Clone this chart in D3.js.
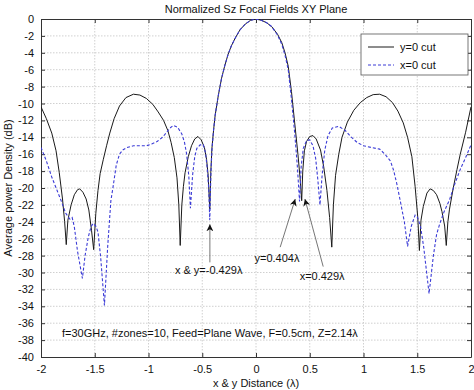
<!DOCTYPE html>
<html>
<head>
<meta charset="utf-8">
<script src="https://cdn.jsdelivr.net/npm/d3@7/dist/d3.min.js"></script>
<style>
  html, body { margin: 0; padding: 0; background: #fff; }
  svg { display: block; font-family: "Liberation Sans", Arial, sans-serif; }
</style>
</head>
<body>
<svg id="chart" width="474" height="390"></svg>
<script>
// ---- data ----
const xTicks = [-2, -1.5, -1, -0.5, 0, 0.5, 1, 1.5, 2];
const xTickLabels = ["-2", "-1.5", "-1", "-0.5", "0", "0.5", "1", "1.5", "2"];
const yTicks = [0, -2, -4, -6, -8, -10, -12, -14, -16, -18, -20, -22, -24, -26, -28, -30, -32, -34, -36, -38, -40];

const seriesNames = ["y=0 cut", "x=0 cut"];

// y=0 cut (solid black)
const yCutX = [-2.00,-1.95,-1.90,-1.86,-1.83,-1.80,-1.78,-1.765,-1.75,-1.72,-1.69,-1.66,-1.64,-1.61,-1.58,-1.555,-1.53,-1.51,-1.49,-1.47,-1.45,-1.42,-1.39,-1.36,-1.32,-1.27,-1.21,-1.14,-1.08,-1.02,-0.96,-0.91,-0.86,-0.82,-0.79,-0.76,-0.735,-0.718,-0.705,-0.69,-0.675,-0.66,-0.63,-0.60,-0.57,-0.54,-0.51,-0.48,-0.46,-0.445,-0.43,-0.42,-0.41,-0.395,-0.38,-0.35,-0.32,-0.29,-0.26,-0.23,-0.195,-0.15,-0.10,-0.05,0,
  0.05,0.10,0.146,0.20,0.24,0.27,0.30,0.33,0.36,0.39,0.41,0.425,0.435,0.45,0.47,0.50,0.53,0.56,0.60,0.63,0.66,0.685,0.705,0.72,0.74,0.77,0.80,0.85,0.91,0.97,1.03,1.09,1.15,1.21,1.27,1.32,1.37,1.41,1.45,1.48,1.505,1.52,1.535,1.556,1.59,1.62,1.65,1.68,1.71,1.73,1.755,1.77,1.785,1.80,1.835,1.87,1.90,1.95,2.00];
const yCutDb = [-10.4,-11.8,-13.5,-15.6,-18.2,-21.3,-24.0,-26.7,-23.8,-22.0,-20.8,-20.2,-20.1,-20.5,-21.3,-22.6,-25.0,-27.3,-23.0,-20.3,-18.3,-16.6,-15.0,-13.5,-11.8,-10.3,-9.3,-8.9,-9.0,-9.4,-10.1,-11.0,-12.0,-13.2,-14.6,-16.4,-18.8,-22.0,-26.8,-22.0,-19.8,-18.2,-16.3,-15.0,-14.2,-13.9,-14.3,-15.2,-16.6,-18.5,-22.5,-18.0,-15.3,-13.2,-11.4,-9.0,-7.0,-5.5,-4.2,-3.2,-2.3,-1.3,-0.6,-0.15,0,
  -0.15,-0.45,-0.9,-1.8,-2.8,-4.0,-5.6,-8.6,-12.3,-16.0,-18.8,-21.5,-18.0,-15.6,-14.5,-13.9,-13.8,-14.2,-15.5,-17.5,-20.3,-23.5,-27.0,-22.0,-18.5,-16.0,-14.0,-12.2,-10.8,-9.9,-9.3,-8.95,-8.9,-9.2,-9.9,-10.9,-12.3,-14.0,-16.3,-19.8,-23.5,-27.4,-23.8,-22.2,-20.6,-20.1,-20.3,-20.8,-21.8,-22.8,-24.5,-26.8,-24.0,-22.5,-20.0,-17.8,-16.0,-13.4,-10.4];

// x=0 cut (dashed blue)
const xCutX = [-2.00,-1.95,-1.90,-1.85,-1.81,-1.77,-1.73,-1.71,-1.69,-1.66,-1.615,-1.59,-1.56,-1.535,-1.516,-1.49,-1.47,-1.445,-1.41,-1.38,-1.35,-1.33,-1.30,-1.27,-1.24,-1.20,-1.14,-1.08,-1.02,-0.97,-0.92,-0.87,-0.83,-0.80,-0.77,-0.73,-0.69,-0.665,-0.645,-0.625,-0.61,-0.59,-0.57,-0.55,-0.52,-0.49,-0.47,-0.455,-0.44,-0.43,-0.42,-0.41,-0.395,-0.38,-0.35,-0.32,-0.29,-0.26,-0.23,-0.195,-0.15,-0.10,-0.05,0,
  0.05,0.10,0.146,0.20,0.24,0.27,0.30,0.33,0.36,0.385,0.405,0.42,0.44,0.47,0.50,0.53,0.555,0.575,0.595,0.615,0.64,0.67,0.71,0.77,0.83,0.88,0.94,1.00,1.07,1.15,1.20,1.25,1.28,1.31,1.34,1.38,1.41,1.445,1.48,1.50,1.53,1.56,1.61,1.65,1.68,1.71,1.75,1.80,1.85,1.90,1.95,2.00];
const xCutDb = [-15.2,-16.8,-18.7,-20.3,-21.6,-23.0,-23.7,-23.5,-24.6,-27.5,-30.7,-28.0,-25.8,-24.6,-24.2,-24.5,-25.2,-28.2,-33.9,-27.0,-21.5,-19.9,-17.3,-16.0,-15.5,-15.2,-15.0,-15.0,-15.0,-14.8,-14.5,-14.0,-13.4,-12.9,-12.6,-12.8,-13.6,-14.6,-16.0,-18.6,-22.4,-18.5,-16.3,-15.3,-14.9,-14.9,-15.8,-17.5,-20.0,-23.8,-18.5,-15.5,-13.2,-11.4,-9.0,-7.0,-5.5,-4.2,-3.2,-2.3,-1.3,-0.6,-0.15,0,
  -0.15,-0.45,-0.9,-1.9,-3.0,-4.3,-6.0,-9.5,-13.5,-17.5,-21.6,-17.5,-15.3,-14.4,-14.3,-15.0,-16.5,-19.0,-22.0,-18.5,-15.5,-13.8,-12.9,-12.7,-13.2,-13.9,-14.6,-15.0,-15.2,-15.4,-16.0,-16.8,-17.9,-19.5,-21.4,-24.0,-26.9,-24.5,-23.2,-23.4,-24.5,-27.0,-32.5,-28.0,-25.5,-24.2,-22.8,-21.4,-19.5,-17.8,-16.4,-14.9];

// annotations: text, text anchor point (data), arrow tail and tip (data)
const annoLabels = ["x & y=-0.429\u03bb", "y=0.404\u03bb", "x=0.429\u03bb"];
const annoTextX = [-0.44, 0.195, 0.615];
const annoTextY = [-30.2, -28.7, -30.9];
const annoTailX = [-0.429, 0.225, 0.625];
const annoTailY = [-28.8, -27.0, -29.3];
const annoTipX = [-0.429, 0.365, 0.455];
const annoTipY = [-24.3, -21.3, -21.3];

const noteText = "f=30GHz, #zones=10, Feed=Plane Wave, F=0.5cm, Z=2.14\u03bb";

// ---- layout ----
const svg = d3.select("#chart");
const pL = 41, pR = 471, pT = 19, pB = 357;
const x = d3.scaleLinear().domain([-2, 2]).range([pL, pR]);
const y = d3.scaleLinear().domain([-40, 0]).range([pB, pT]);

// grid
const g = svg.append("g");
g.selectAll(".vg").data(xTicks.slice(1, -1)).enter().append("line")
  .attr("x1", d => x(d)).attr("x2", d => x(d)).attr("y1", pT).attr("y2", pB)
  .attr("stroke", "#c4c4c4").attr("stroke-width", 0.8).attr("stroke-dasharray", "1.5,1.5");
g.selectAll(".hg").data(yTicks.slice(1, -1)).enter().append("line")
  .attr("y1", d => y(d)).attr("y2", d => y(d)).attr("x1", pL).attr("x2", pR)
  .attr("stroke", "#c4c4c4").attr("stroke-width", 0.8).attr("stroke-dasharray", "1.5,1.5");

// axes (MATLAB-style inward ticks on all four sides)
const fontSize = 11;
const axB = d3.axisBottom(x).tickValues(xTicks).tickFormat((d, i) => xTickLabels[i]).tickSizeInner(-4).tickSizeOuter(0).tickPadding(8);
const axT = d3.axisTop(x).tickValues(xTicks).tickFormat("").tickSizeInner(-4).tickSizeOuter(0);
const axL = d3.axisLeft(y).tickValues(yTicks).tickFormat(d => d).tickSizeInner(-4).tickSizeOuter(0).tickPadding(7);
const axR = d3.axisRight(y).tickValues(yTicks).tickFormat("").tickSizeInner(-4).tickSizeOuter(0);

function styleAxis(sel) {
  sel.select(".domain").attr("stroke", "#333");
  sel.selectAll(".tick line").attr("stroke", "#333");
  sel.selectAll("text").attr("fill", "#111").style("font-size", fontSize + "px")
    .style("font-family", '"Liberation Sans", Arial, sans-serif');
}
svg.append("g").attr("transform", `translate(0,${pB})`).call(axB).call(styleAxis);
svg.append("g").attr("transform", `translate(0,${pT})`).call(axT).call(styleAxis);
svg.append("g").attr("transform", `translate(${pL},0)`).call(axL).call(styleAxis);
svg.append("g").attr("transform", `translate(${pR},0)`).call(axR).call(styleAxis);

// lines
const lineGen = d3.line().x(d => x(d[0])).y(d => y(d[1]));
const yCut = yCutX.map((v, i) => [v, yCutDb[i]]);
const xCut = xCutX.map((v, i) => [v, xCutDb[i]]);
svg.append("clipPath").attr("id", "clip").append("rect")
  .attr("x", pL).attr("y", pT).attr("width", pR - pL).attr("height", pB - pT);
svg.append("path").datum(yCut).attr("d", lineGen).attr("fill", "none")
  .attr("stroke", "#1a1a1a").attr("stroke-width", 1).attr("clip-path", "url(#clip)");
svg.append("path").datum(xCut).attr("d", lineGen).attr("fill", "none")
  .attr("stroke", "#3b3bd6").attr("stroke-width", 1.1).attr("stroke-dasharray", "3,2").attr("clip-path", "url(#clip)");

// title + axis labels
svg.append("text").attr("x", x(0)).attr("y", 13).attr("text-anchor", "middle")
  .style("font-size", "11px").attr("fill", "#111").text("Normalized Sz Focal Fields XY Plane");
svg.append("text").attr("x", x(0)).attr("y", 387).attr("text-anchor", "middle")
  .style("font-size", "11px").attr("fill", "#111").text("x & y Distance (\u03bb)");
svg.append("text").attr("transform", `translate(12,${y(-20)}) rotate(-90)`).attr("text-anchor", "middle")
  .style("font-size", "11px").attr("fill", "#111").text("Average power Density (dB)");

// legend
const lg = svg.append("g");
lg.append("rect").attr("x", 361).attr("y", 34).attr("width", 107).attr("height", 41)
  .attr("fill", "#fff").attr("stroke", "#555").attr("stroke-width", 0.8);
const legStyles = [{stroke: "#1a1a1a", dash: null}, {stroke: "#3b3bd6", dash: "3,2"}];
seriesNames.forEach((name, i) => {
  const ly = 47 + i * 18;
  lg.append("line").attr("x1", 368).attr("x2", 394).attr("y1", ly).attr("y2", ly)
    .attr("stroke", legStyles[i].stroke).attr("stroke-width", 1).attr("stroke-dasharray", legStyles[i].dash);
  lg.append("text").attr("x", 400).attr("y", ly + 4).style("font-size", "11px").attr("fill", "#111").text(name);
});

// annotations with arrows
svg.append("defs").append("marker").attr("id", "arrow").attr("viewBox", "0 0 10 10")
  .attr("refX", 10).attr("refY", 5).attr("markerWidth", 7).attr("markerHeight", 7)
  .attr("markerUnits", "userSpaceOnUse").attr("orient", "auto")
  .append("path").attr("d", "M0,0 L10,5 L0,10 L3,5 Z").attr("fill", "#111");
annoLabels.forEach((t, i) => {
  svg.append("line").attr("x1", x(annoTailX[i])).attr("y1", y(annoTailY[i]))
    .attr("x2", x(annoTipX[i])).attr("y2", y(annoTipY[i]))
    .attr("stroke", "#666").attr("stroke-width", 0.9).attr("marker-end", "url(#arrow)");
  svg.append("text").attr("x", x(annoTextX[i])).attr("y", y(annoTextY[i])).attr("text-anchor", "middle")
    .style("font-size", "11px").attr("fill", "#111").text(t);
});

svg.append("text").attr("x", 62).attr("y", 337).style("font-size", "11px").attr("fill", "#111").text(noteText);
</script>
</body>
</html>
